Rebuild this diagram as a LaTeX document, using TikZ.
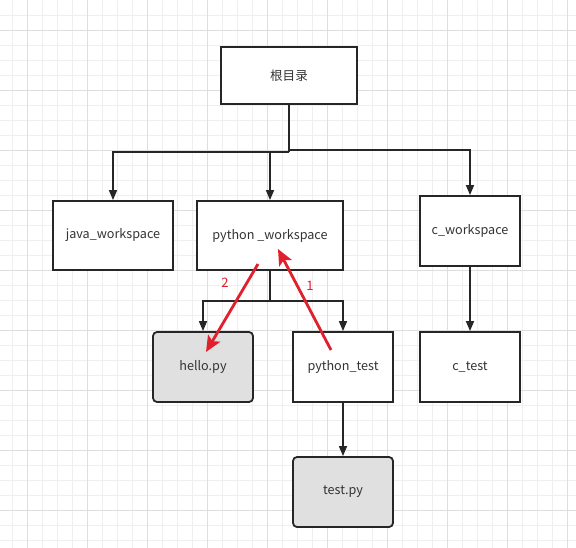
\documentclass[tikz,border=0pt]{standalone}
\usepackage{fontspec}
\setmainfont{Noto Sans CJK SC}
\usetikzlibrary{arrows.meta,calc}
\definecolor{minorg}{HTML}{EFEFEF}
\definecolor{majorg}{HTML}{DEDEDE}
\definecolor{boxline}{HTML}{262626}
\definecolor{grayfill}{HTML}{E0E0E0}
\definecolor{txt}{HTML}{333333}
\definecolor{redarr}{HTML}{E0202C}
\tikzset{
  box/.style={draw=boxline, line width=1.8pt, fill=white, inner sep=0pt, text=txt, font=\fontsize{12.6}{15}\selectfont},
  filebox/.style={box, fill=grayfill, rounded corners=4pt},
  link/.style={draw=boxline, line width=1.6pt},
  arr/.style={link, -{Triangle[length=10pt,width=8pt]}},
  redlink/.style={draw=redarr, line width=2.8pt, -{Stealth[length=16pt,width=14pt,inset=3.5pt]}},
  numlbl/.style={text=redarr, font=\fontsize{13}{15}\selectfont, inner sep=0pt}
}
\begin{document}
\begin{tikzpicture}[x=1pt,y=-1pt]
\useasboundingbox (0,0) rectangle (576,548);
\fill[white] (0,0) rectangle (576,548);
% grid
\foreach \gx in {12,27,...,576} \draw[minorg, line width=0.6pt] (\gx,0) -- (\gx,548);
\foreach \gy in {15,30,...,548} \draw[minorg, line width=0.6pt] (0,\gy) -- (576,\gy);
\foreach \gx in {27,87,...,576} \draw[majorg, line width=0.7pt] (\gx,0) -- (\gx,548);
\foreach \gy in {30,90,...,548} \draw[majorg, line width=0.7pt] (0,\gy) -- (576,\gy);

% nodes
\node[box, minimum width=136pt, minimum height=57pt] (root) at (289,75.5) {根目录};
\node[box, minimum width=120pt, minimum height=69pt] (java) at (113,235.5) {java\_workspace};
\node[box, minimum width=146pt, minimum height=69pt] (python) at (270,235.5) {python \_workspace};
\node[box, minimum width=100pt, minimum height=70pt] (cws) at (470,231) {c\_workspace};
\node[filebox, minimum width=100pt, minimum height=70pt] (hello) at (203,367) {hello.py};
\node[box, minimum width=100pt, minimum height=70pt] (ptest) at (343,367) {python\_test};
\node[box, minimum width=100pt, minimum height=70pt] (ctest) at (470,367) {c\_test};
\node[filebox, minimum width=100pt, minimum height=70pt] (testpy) at (343,492) {test.py};

% tree connectors
\coordinate (rj) at (289,152);
\coordinate (rj2) at (289,150);
\coordinate (pj) at (270,301);
\draw[link] (root.south) -- (rj);
\draw[arr] (rj) -| (java.north);
\draw[arr] (python.north |- rj) -- (python.north);
\draw[arr] (rj2) -| (cws.north);
\draw[link] (python.south) -- (pj);
\draw[arr] (pj) -| (hello.north);
\draw[arr] (pj) -| (ptest.north);
\draw[arr] (cws.south) -- (ctest.north);
\draw[arr] (ptest.south) -- (testpy.north);

% red arrows
\coordinate (r2s) at (258,264);
\coordinate (r2e) at (206,352);
\coordinate (r1s) at (331,350);
\coordinate (r1e) at (278,249);
\draw[redlink] (r2s) -- (r2e);
\draw[redlink] (r1s) -- (r1e);
\node[numlbl] (l2) at (225,283) {2};
\node[numlbl] (l1) at (310,286) {1};
\end{tikzpicture}
\end{document}
